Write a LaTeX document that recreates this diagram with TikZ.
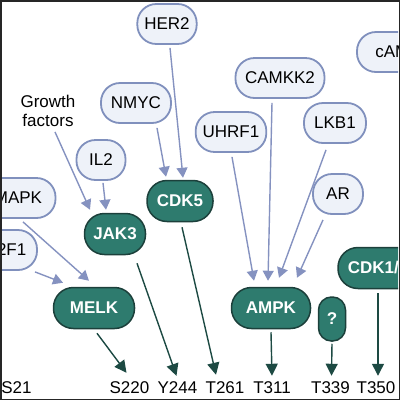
\documentclass[tikz,border=0pt]{standalone}
\usepackage{fontspec}
\setmainfont{Liberation Sans}
\usetikzlibrary{arrows.meta}
\definecolor{lightfill}{HTML}{EEF2F9}
\definecolor{lightedge}{HTML}{8090BD}
\definecolor{lightarrow}{HTML}{8592C0}
\definecolor{tealfill}{HTML}{2E7B6E}
\definecolor{tealedge}{HTML}{1C403B}
\definecolor{darkarrow}{HTML}{1D4A43}
\tikzset{
  factor/.style = {draw=lightedge, fill=lightfill, line width=1.8pt, rectangle, rounded corners=19pt,
                   minimum height=40pt, minimum width=50pt, inner xsep=7pt, text centered,
                   font=\fontsize{17}{19}\selectfont},
  kinase/.style = {draw=tealedge, fill=tealfill, line width=1.5pt, rectangle, rounded corners=20pt,
                   minimum height=41pt, inner xsep=8pt, text=white, text centered,
                   font=\fontsize{17}{19}\selectfont\bfseries},
  site/.style   = {inner sep=0pt, font=\fontsize{17}{19}\selectfont},
  inline/.style = {draw=lightarrow, line width=1.4pt, -{Triangle[length=10pt,width=11pt]}},
  outline/.style = {draw=darkarrow, line width=1.4pt, -{Triangle[length=12pt,width=12pt]}}
}
\begin{document}
\begin{tikzpicture}[x=1pt, y=-1pt]
    \useasboundingbox (0,0) rectangle (400,400);
    \begin{scope}
        \clip (1,1) rectangle (398,398);
        % upstream factors
        \node[factor] (her2) at (167,24) {HER2};
        \node[factor, minimum width=70pt] (nmyc) at (136,103) {NMYC};
        \node[site, align=center] (growth) at (48,111) {Growth\\factors};
        \node[factor, minimum width=49pt] (il2) at (101,160) {IL2};
        \node[factor, minimum width=75pt] (mapk) at (18,198) {MAPK};
        \node[factor, minimum width=62pt] (e2f1) at (6,250) {E2F1};
        \node[factor, minimum width=89pt] (camkk2) at (280,78) {CAMKK2};
        \node[factor] (uhrf1) at (231,132) {UHRF1};
        \node[factor, minimum width=62pt] (lkb1) at (335,123) {LKB1};
        \node[factor] (ar) at (338,194) {AR};
        \node[factor, minimum width=82pt] (camp) at (398,52) {cAMP};
        % kinases
        \node[kinase, minimum width=66pt] (cdk5) at (180,201) {CDK5};
        \node[kinase, minimum width=61pt] (jak3) at (115,234) {JAK3};
        \node[kinase, minimum width=81pt] (melk) at (94,308) {MELK};
        \node[kinase, minimum width=79pt] (ampk) at (271,308) {AMPK};
        \node[kinase, minimum width=27pt, minimum height=44pt, inner xsep=0pt, rounded corners=13pt] (unknown) at (332,319) {?};
        \node[kinase, minimum width=80pt] (cdk1) at (378,268) {CDK1/2};
        % phosphorylation sites
        \node[site] (s21) at (16.5,388) {S21};
        \node[site] (s220) at (129.5,388) {S220};
        \node[site] (y244) at (177.5,388) {Y244};
        \node[site] (t261) at (225,388) {T261};
        \node[site] (t311) at (272,388) {T311};
        \node[site] (t339) at (330.5,388) {T339};
        \node[site] (t350) at (376,388) {T350};
        % upstream arrows
        \path[inline] ([xshift=3pt,yshift=-3pt]her2.south) -- ([xshift=3pt,yshift=2pt]cdk5.north);
        \path[inline] ([xshift=21pt,yshift=-4pt]nmyc.south) -- ([xshift=-14pt,yshift=3pt]cdk5.north);
        \path[inline] ([xshift=7pt,yshift=-5pt]growth.south) -- ([xshift=-25pt,yshift=3pt]jak3.north);
        \path[inline] ([xshift=2pt,yshift=-2pt]il2.south) -- ([xshift=-9pt,yshift=3pt]jak3.north);
        \path[inline] ([xshift=5pt,yshift=-3pt]mapk.south) -- ([xshift=-5pt,yshift=6pt]melk.north);
        \path[inline] ([xshift=29pt,yshift=-1pt]e2f1.south) -- ([xshift=-31pt,yshift=4pt]melk.north);
        \path[inline] ([xshift=1pt,yshift=-4pt]uhrf1.south) -- ([xshift=-17pt,yshift=6pt]ampk.north);
        \path[inline] ([xshift=-8pt,yshift=-4pt]camkk2.south) -- ([xshift=-3pt,yshift=6pt]ampk.north);
        \path[inline] ([xshift=-9pt,yshift=-6pt]lkb1.south) -- ([xshift=8pt,yshift=9pt]ampk.north);
        \path[inline] ([xshift=-15pt,yshift=-5pt]ar.south) -- ([xshift=26pt,yshift=9pt]ampk.north);
        % kinase to site arrows
        \path[outline] ([xshift=3pt,yshift=-4pt]melk.south) -- ([xshift=-3pt,yshift=9pt]s220.north);
        \path[outline] ([xshift=22pt,yshift=-8pt]jak3.south) -- ([xshift=-1pt,yshift=6pt]y244.north);
        \path[outline] ([xshift=2pt,yshift=-5pt]cdk5.south) -- ([xshift=-9pt,yshift=7pt]t261.north);
        \path[outline] ([yshift=-3pt]ampk.south) -- ([yshift=6pt]t311.north);
        \path[outline] ([yshift=-2pt]unknown.south) -- ([xshift=1pt,yshift=6pt]t339.north);
        \path[outline] ([yshift=-4pt]cdk1.south) -- ([xshift=2pt,yshift=6pt]t350.north);
    \end{scope}
    % frame
    \draw[color=black!85, line width=1.5pt] (0.75,0.75) rectangle (399.25,399.25);
\end{tikzpicture}
\end{document}
